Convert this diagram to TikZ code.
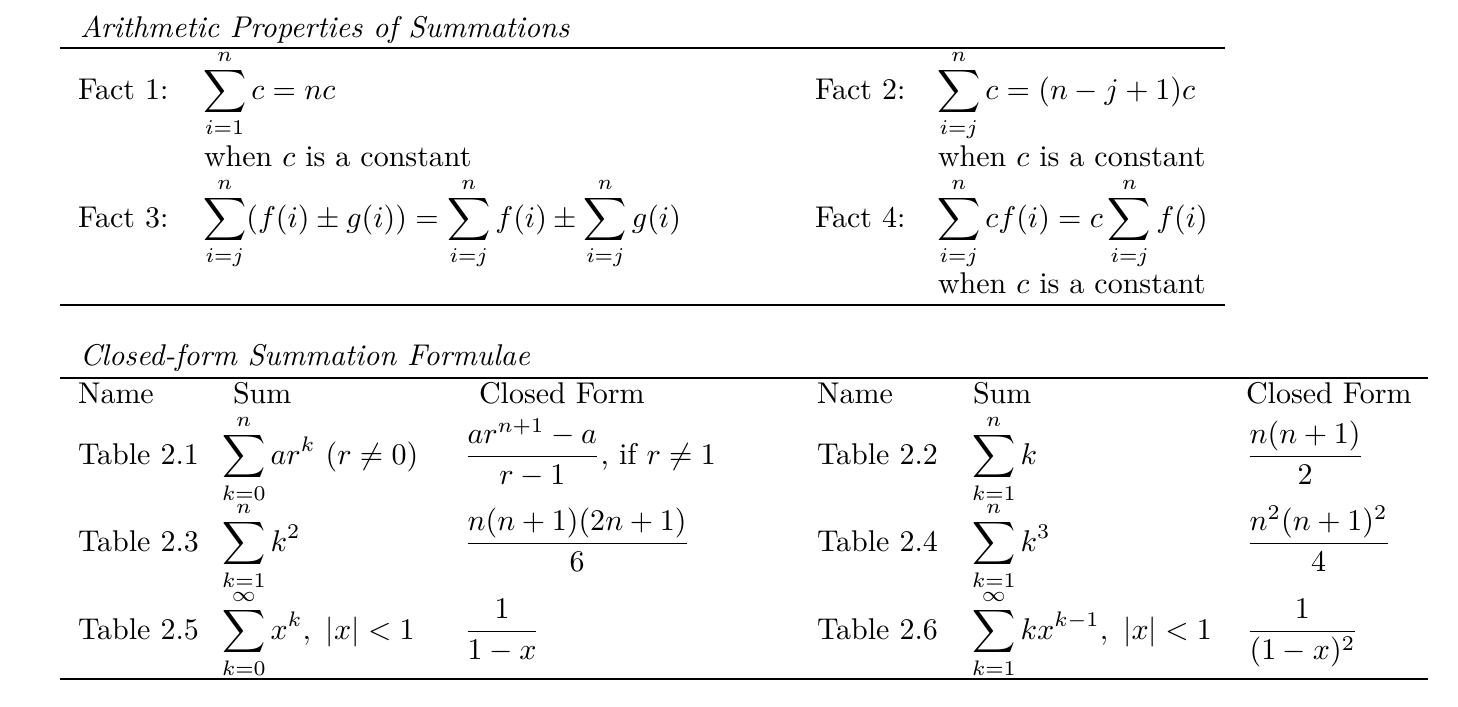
\documentclass[tikz,border=0pt]{standalone}
\usepackage{amsmath}
\begin{document}
\begin{tikzpicture}[x=0.3333pt,y=-0.3333pt,
  t/.style={anchor=base west,inner sep=0pt,outer sep=0pt},
  rule/.style={line width=0.45pt}]
\useasboundingbox (0,0) rectangle (1458,706);
% first table
\node[t] (title1) at (80,37) {\textit{Arithmetic Properties of Summations}};
\draw[rule] (60,48) -- (1225,48);
\node[t] (f1) at (78,99) {Fact 1:};
\node[t] (f1s) at (203,99) {$\displaystyle\sum_{i=1}^{n} c = nc$};
\node[t] (f1w) at (204,166) {when $c$ is a constant};
\node[t] (f2) at (815,99) {Fact 2:};
\node[t] (f2s) at (937,99) {$\displaystyle\sum_{i=j}^{n} c = (n-j+1)c$};
\node[t] (f2w) at (938,166) {when $c$ is a constant};
\node[t] (f3) at (78,227) {Fact 3:};
\node[t] (f3s) at (203,227) {$\displaystyle\sum_{i=j}^{n}(f(i)\pm g(i)) = \sum_{i=j}^{n} f(i) \pm \sum_{i=j}^{n} g(i)$};
\node[t] (f4) at (815,227) {Fact 4:};
\node[t] (f4s) at (937,227) {$\displaystyle\sum_{i=j}^{n} cf(i) = c\sum_{i=j}^{n} f(i)$};
\node[t] (f4w) at (938,293) {when $c$ is a constant};
\draw[rule] (60,305) -- (1225,305);
% second table
\node[t] (title2) at (80,365) {\textit{Closed-form Summation Formulae}};
\draw[rule] (60,378) -- (1428,378);
\node[t] (h1) at (78,403) {Name};
\node[t] (h2) at (233,403) {Sum};
\node[t] (h3) at (479,403) {Closed Form};
\node[t] (h4) at (817,403) {Name};
\node[t] (h5) at (973,403) {Sum};
\node[t] (h6) at (1246,403) {Closed Form};
% row 1
\node[t] (r1a) at (78,464) {Table 2.1};
\node[t] (r1b) at (222,464) {$\displaystyle\sum_{k=0}^{n} ar^k\ (r\neq 0)$};
\node[t] (r1c) at (464,464) {$\displaystyle\frac{ar^{n+1}-a}{r-1}$, if $r\neq 1$};
\node[t] (r1d) at (817,464) {Table 2.2};
\node[t] (r1e) at (972,464) {$\displaystyle\sum_{k=1}^{n} k$};
\node[t] (r1f) at (1246,464) {$\displaystyle\frac{n(n+1)}{2}$};
% row 2
\node[t] (r2a) at (78,551) {Table 2.3};
\node[t] (r2b) at (222,551) {$\displaystyle\sum_{k=1}^{n} k^2$};
\node[t] (r2c) at (464,551) {$\displaystyle\frac{n(n+1)(2n+1)}{6}$};
\node[t] (r2d) at (817,551) {Table 2.4};
\node[t] (r2e) at (972,551) {$\displaystyle\sum_{k=1}^{n} k^3$};
\node[t] (r2f) at (1246,551) {$\displaystyle\frac{n^2(n+1)^2}{4}$};
% row 3
\node[t] (r3a) at (78,639) {Table 2.5};
\node[t] (r3b) at (222,639) {$\displaystyle\sum_{k=0}^{\infty} x^k,\ |x|<1$};
\node[t] (r3c) at (464,639) {$\displaystyle\frac{1}{1-x}$};
\node[t] (r3d) at (817,639) {Table 2.6};
\node[t] (r3e) at (972,639) {$\displaystyle\sum_{k=1}^{\infty} kx^{k-1},\ |x|<1$};
\node[t] (r3f) at (1246,639) {$\displaystyle\frac{1}{(1-x)^2}$};
\draw[rule] (60,679) -- (1428,679);
\end{tikzpicture}
\end{document}
